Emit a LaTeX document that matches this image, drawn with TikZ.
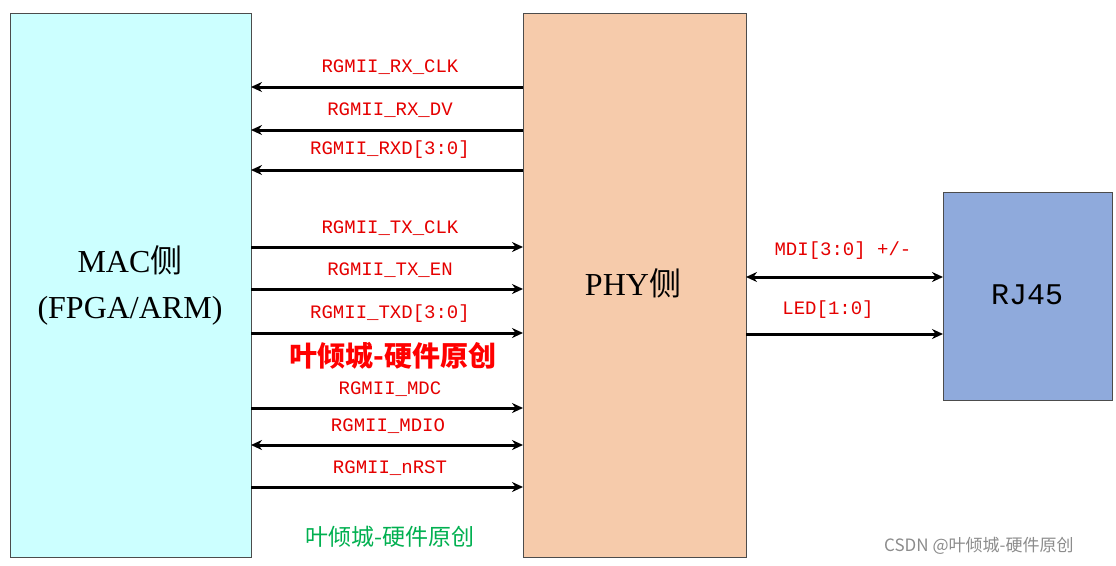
\documentclass[tikz,border=0pt]{standalone}
\usepackage{fontspec}
\setmainfont{Liberation Serif}
\newfontfamily\monof{Liberation Mono}
\newfontfamily\cjk{Noto Sans CJK SC}
\usetikzlibrary{arrows.meta}
\begin{document}
\begin{tikzpicture}[x=1pt,y=-1pt,
  box/.style={draw=black!70,line width=0.8pt},
  sig/.style={line width=3pt,-{Stealth[length=11pt,width=10pt]}},
  bsig/.style={line width=3pt,{Stealth[length=11pt,width=10pt]}-{Stealth[length=11pt,width=10pt]}},
  lbl/.style={text=red!90!black,font=\monof\fontsize{19}{19}\selectfont,inner sep=0pt}]
\useasboundingbox[fill=white] (0,0) rectangle (1116,565);
\fill[box,fill={rgb,255:red,204;green,255;blue,255}] (10,13) rectangle (251,557);
\fill[box,fill={rgb,255:red,246;green,203;blue,171}] (523,13) rectangle (746,557);
\fill[box,fill={rgb,255:red,143;green,170;blue,220}] (943,192) rectangle (1112,400);
\node[align=center,font=\fontsize{32}{46}\selectfont] (mac) at (130,285) {MAC{\cjk 侧}\\(FPGA/ARM)};
\node (phy) at (633,283) {\fontsize{32}{32}\selectfont PHY{\cjk 侧}};
\node (rj) at (1027,295) {\monof\fontsize{30}{30}\selectfont RJ45};
\foreach \y/\t in {87/RGMII\_RX\_CLK,130/RGMII\_RX\_DV,170/RGMII\_RXD[3:0]}{
  \coordinate (a) at (523,\y); \coordinate (b) at (251,\y);
  \draw[sig] (a) -- (b);
  \node[lbl] at (390,\y-20) {\t};}
\foreach \y/\t in {247/RGMII\_TX\_CLK,289/RGMII\_TX\_EN,333/RGMII\_TXD[3:0],408/RGMII\_MDC,487/RGMII\_nRST}{
  \coordinate (a) at (251,\y); \coordinate (b) at (523,\y);
  \draw[sig] (a) -- (b);
  \node[lbl] at (390,\y-19) {\t};}
\coordinate (m1) at (251,445); \coordinate (m2) at (523,445);
\draw[bsig] (m1) -- (m2);
\node[lbl] at (388,426) {RGMII\_MDIO};
\coordinate (p1) at (746,277); \coordinate (p2) at (943,277);
\draw[bsig] (p1) -- (p2);
\node[lbl] at (843,251) {MDI[3:0] +/-};
\coordinate (p3) at (746,334); \coordinate (p4) at (943,334);
\draw[sig] (p3) -- (p4);
\node[lbl] at (828,310) {LED[1:0]};
\node[text=red,font=\cjk\bfseries\fontsize{28}{28}\selectfont,inner sep=0pt] at (393,356) {叶倾城-硬件原创};
\node[text={rgb,255:red,0;green,176;blue,80},font=\cjk\fontsize{23}{23}\selectfont,inner sep=0pt] at (390,537) {叶倾城-硬件原创};
\node[text=black!45,font=\cjk\fontsize{17}{17}\selectfont,inner sep=0pt,anchor=west] at (884,546) {CSDN @叶倾城-硬件原创};
\end{tikzpicture}
\end{document}
